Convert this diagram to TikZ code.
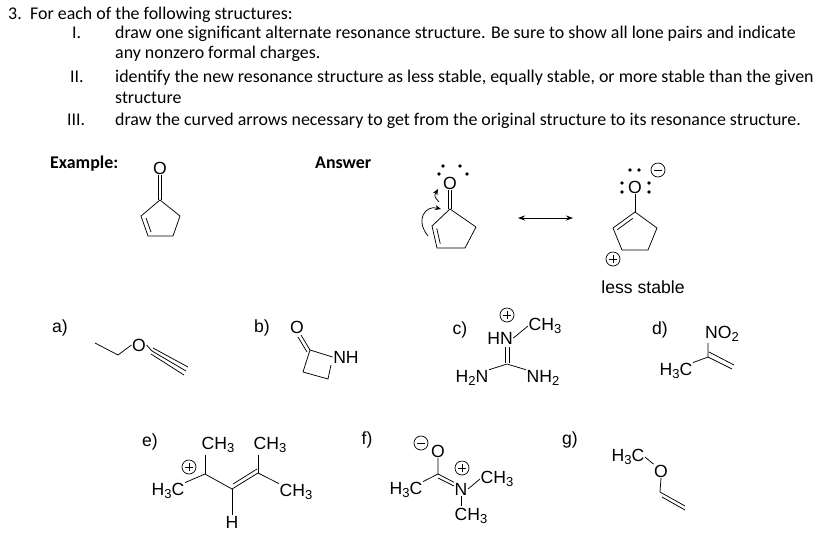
\documentclass[tikz,border=0pt]{standalone}
\usepackage{fontspec}
\setmainfont{Carlito}
\newfontfamily\chemf{Liberation Sans}
\usetikzlibrary{arrows.meta,calc}
\tikzset{
 txt/.style={anchor=base west,inner sep=0pt,font=\fontsize{17.9}{20}\selectfont},
 atm/.style={inner sep=0.5pt,font=\chemf\fontsize{17.6}{19}\selectfont},
 lab/.style={inner sep=0pt,font=\chemf\fontsize{17.6}{19}\selectfont},
 bond/.style={line width=0.75pt},
 chg/.style={circle,draw,line width=0.7pt,inner sep=0pt,minimum size=14pt},
 chgm/.style={chg,path picture={\draw[line width=0.7pt] ([xshift=-4pt]path picture bounding box.center)--([xshift=4pt]path picture bounding box.center);}},
 chgp/.style={chg,path picture={\draw[line width=0.7pt] ([xshift=-4pt]path picture bounding box.center)--([xshift=4pt]path picture bounding box.center) ([yshift=-4pt]path picture bounding box.center)--([yshift=4pt]path picture bounding box.center);}},
 dot/.style={circle,fill,inner sep=0pt,minimum size=3.6pt},
 curv/.style={line width=0.75pt,-{Stealth[length=6pt,width=5pt]}}
}
\newcommand{\sub}[1]{{\fontsize{13}{13}\selectfont\raisebox{-3pt}{#1}}}
\begin{document}
\begin{tikzpicture}[x=1pt,y=-1pt]
\useasboundingbox (0,0) rectangle (839,550);
% text
\node[txt] (n3) at (8,19) {3.};
\node[txt] (t0) at (30,19) {For each of the following structures:};
\node[txt] (r1) at (72,38) {I.};
\node[txt] (t1) at (115,38) {draw one significant alternate resonance structure. Be sure to show all lone pairs and indicate};
\node[txt] (t1b) at (115,58) {any nonzero formal charges.};
\node[txt] (r2) at (70,82) {II.};
\node[txt] (t2) at (115,82) {identify the new resonance structure as less stable, equally stable, or more stable than the given};
\node[txt] (t2b) at (115,103) {structure};
\node[txt] (r3) at (67,125) {III.};
\node[txt] (t3) at (115,125) {draw the curved arrows necessary to get from the original structure to its resonance structure.};
\node[txt,font=\bfseries\fontsize{17.9}{20}\selectfont] (ex) at (50,168) {Example:};
\node[txt,font=\bfseries\fontsize{17.9}{20}\selectfont] (ans) at (315,168) {Answer};
% example
\node[atm] (eO) at (160,168) {O};
\coordinate (e1) at (160,200); \coordinate (e2) at (180,216); \coordinate (e3) at (173,236);
\coordinate (e4) at (148,236); \coordinate (e5) at (141,216);
\draw[bond] (e1)--(e2)--(e3)--(e4)--(e5)--cycle;
\draw[bond] ([xshift=-1.6pt]eO.south)--([xshift=-1.6pt]e1); \draw[bond] ([xshift=1.6pt]eO.south)--([xshift=1.6pt]e1);
\draw[bond] ($(e5)!0.15!(e4)+(4,-1)$) -- ($(e5)!0.85!(e4)+(4,-1)$);
% answer left
\node[atm] (aO) at (450,183) {O};
\coordinate (a1) at (450,209); \coordinate (a2) at (476,227); \coordinate (a3) at (465,248);
\coordinate (a4) at (437,248); \coordinate (a5) at (432,226);
\draw[bond] (a1)--(a2)--(a3)--(a4)--(a5)--cycle;
\draw[bond] ([xshift=-1.6pt]aO.south)--([xshift=-1.6pt]a1); \draw[bond] ([xshift=1.6pt]aO.south)--([xshift=1.6pt]a1);
\draw[bond] ($(a5)!0.15!(a4)+(4,-1)$) -- ($(a5)!0.85!(a4)+(4,-1)$);
\node[dot] (ad1) at (443,166) {}; \node[dot] (ad2) at (460,166) {};
\node[dot] (ad3) at (439,174) {}; \node[dot] (ad4) at (467,174) {};
\draw[curv] (439,202) .. controls (434,196) .. (438,189);
\draw[curv] (428,236) .. controls (415,220) and (425,205) .. (441,209);
% resonance arrow
\coordinate (ra) at (518,218); \coordinate (rb) at (573,218);
\draw[line width=0.75pt,{Stealth[length=7pt,width=5pt]}-{Stealth[length=7pt,width=5pt]}] (ra)--(rb);
% answer right
\node[atm] (bO) at (635,187) {O};
\coordinate (b1) at (635,212); \coordinate (b2) at (657,228); \coordinate (b3) at (648,250);
\coordinate (b4) at (622,250); \coordinate (b5) at (613,228);
\draw[bond] (b1)--(b2)--(b3)--(b4)--(b5)--cycle;
\draw[bond] (bO.south)--(b1);
\draw[bond] ($(b1)!0.15!(b5)+(1,4)$) -- ($(b1)!0.85!(b5)+(1,4)$);
\node[chgp] (bp) at (613,259) {};
\node[chgm] (bm) at (658,170) {};
\node[dot] (bd1) at (630,170) {}; \node[dot] (bd2) at (639,170) {};
\node[dot] (bd3) at (622,183) {}; \node[dot] (bd4) at (622,192) {};
\node[dot] (bd5) at (649,183) {}; \node[dot] (bd6) at (649,192) {};
\node[lab] (ls) at (643,287) {less stable};
% a)
\node[lab] (la) at (60,328) {a)};
\coordinate (a_1) at (95,343); \coordinate (a_2) at (118,355);
\node[atm] (aOx) at (139,345) {O};
\draw[bond] (a_1)--(a_2)--(aOx.west);
\draw[bond] (aOx.east)--(152,351);
\draw[bond] (152,351)--(186,371); \draw[bond] (153,348)--(188,367); \draw[bond] (151,354)--(184,375);
% b)
\node[lab] (lb) at (262,328) {b)};
\node[atm] (bbO) at (297,327) {O};
\coordinate (bc) at (310,350); \node[atm] (bN) at (346,357) {NH};
\coordinate (bbr) at (328,379); \coordinate (bbl) at (303,372);
\draw[bond] (bc)--(bN.west); \draw[bond] (331,365)--(bbr)--(bbl)--(bc);
\draw[bond] (301,335)--(bc); \draw[bond] (298,337)--(307,352);
% c)
\node[lab] (lc) at (460,330) {c)};
\node[atm] (cHN) at (500,338) {HN};
\node[atm] (cCH) at (545,326) {CH\sub{3}};
\node[chgp] (cp) at (507,315) {};
\coordinate (cC) at (507,363);
\node[atm] (cH2N) at (472,378) {H\sub{2}N};
\node[atm] (cNH2) at (543,378) {NH\sub{2}};
\draw[bond] (cHN.east)--(cCH.west);
\draw[bond] (505,347)--(505,363); \draw[bond] (509,347)--(509,363);
\draw[bond] (cH2N.north east)--(507,364)--(cNH2.north west);
% d)
\node[lab] (ld) at (660,330) {d)};
\node[atm] (dN) at (722,334) {NO\sub{2}};
\coordinate (dC) at (708,357); \coordinate (dE) at (732,369);
\node[atm] (dH) at (676,371) {H\sub{3}C};
\draw[bond] (708,343)--(dC)--(dH.north east);
\draw[bond] (dC)--(dE); \draw[bond] (709,352)--(734,365);
% e)
\node[lab] (le) at (150,442) {e)};
\node[atm] (eC1l) at (218,445) {CH\sub{3}};
\node[atm] (eC2l) at (270,445) {CH\sub{3}};
\coordinate (ec1) at (205,474); \coordinate (ec2) at (232,489); \coordinate (ec3) at (258,473);
\node[atm] (eH3C) at (168,491) {H\sub{3}C};
\node[atm] (eCr) at (296,492) {CH\sub{3}};
\node[atm] (eH) at (232,522) {H};
\node[chgp] (ep) at (189,467) {};
\draw[bond] (eH3C.north east)--(ec1)--(ec2); \draw[bond] (205,455)--(ec1);
\draw[bond] (ec2)--(ec3); \draw[bond] (233,484)--(257,469);
\draw[bond] (ec2)--(eH.north); \draw[bond] (ec3)--(258,455); \draw[bond] (ec3)--(eCr.north west);
% f)
\node[lab] (lf) at (367,440) {f)};
\node[chgm] (fm) at (421,443) {};
\node[atm] (fO) at (438,451) {O};
\coordinate (fC) at (438,474);
\node[atm] (fH3C) at (406,490) {H\sub{3}C};
\node[atm] (fN) at (461,489) {N};
\node[chgp] (fp) at (462,468) {};
\node[atm] (fCH) at (497,479) {CH\sub{3}};
\node[atm] (fCH2) at (471,516) {CH\sub{3}};
\draw[bond] (fO.south)--(fC)--(fH3C.north east);
\draw[bond] (fC)--(fN.north west); \draw[bond] (438,478)--(454,486);
\draw[bond] (fN.east)--(fCH.west); \draw[bond] (fN.south)--(461,506);
% g)
\node[lab] (lg) at (570,440) {g)};
\node[atm] (gH) at (628,457) {H\sub{3}C};
\node[atm] (gO) at (661,471) {O};
\coordinate (g1) at (660,492); \coordinate (g2) at (685,506);
\draw[bond] (gH.east)--(gO.north west); \draw[bond] (gO.south)--(g1)--(g2); \draw[bond] (662,497)--(685,510);
\end{tikzpicture}
\end{document}
